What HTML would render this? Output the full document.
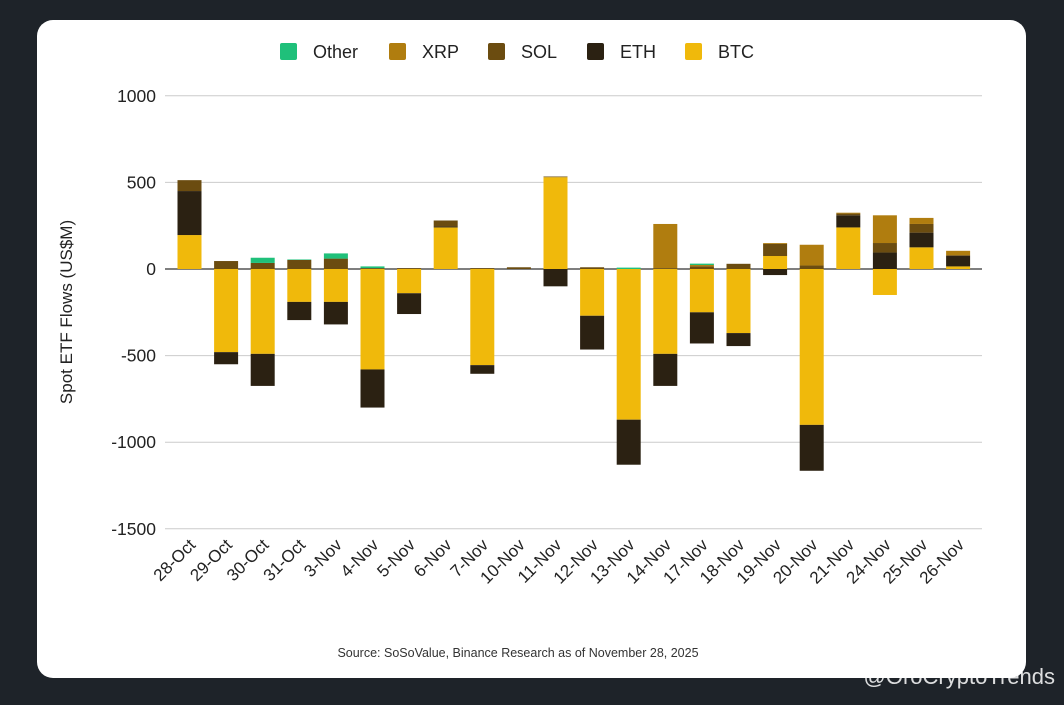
<!DOCTYPE html>
<html><head><meta charset="utf-8"><style>
body{margin:0;background:#1e2329;width:1064px;height:700px;overflow:hidden;font-family:"Liberation Sans",sans-serif}
</style></head><body>
<svg id="c" width="1064" height="700">
<rect x="37" y="20" width="989" height="658" rx="16" fill="#fff"/>
<text x="518" y="657" font-size="12.5" fill="#333" text-anchor="middle">Source: SoSoValue, Binance Research as of November 28, 2025</text>
<text x="1055" y="684" font-size="22" fill="#fff" fill-opacity="0.85" text-anchor="end">@OroCryptoTrends</text>
<text transform="translate(72,312) rotate(-90)" font-size="17" fill="#222" text-anchor="middle">Spot ETF Flows (US$M)</text>
</svg>
<script>
const categories=["28-Oct","29-Oct","30-Oct","31-Oct","3-Nov","4-Nov","5-Nov","6-Nov","7-Nov","10-Nov","11-Nov","12-Nov","13-Nov","14-Nov","17-Nov","18-Nov","19-Nov","20-Nov","21-Nov","24-Nov","25-Nov","26-Nov"];
const btc=[196,-480,-490,-190,-190,-580,-140,240,-555,0,530,-270,-870,-490,-250,-370,75,-900,240,-150,125,15];
const eth=[254,-70,-185,-105,-130,-220,-120,5,-50,0,-100,-195,-260,-185,-180,-75,-35,-265,70,95,85,60];
const sol=[63,46,35,52,60,5,5,35,5,10,4,10,0,5,15,30,70,20,10,55,50,5];
const xrp=[0,0,0,0,0,0,0,0,0,0,0,0,0,255,8,0,5,120,5,160,35,25];
const other=[0,0,30,3,30,10,0,0,0,0,0,0,8,0,8,0,0,0,0,0,0,0];
const yTicks=[1000,500,0,-500,-1000,-1500];
const series=[["btc",btc,"#F0B90B"],["eth",eth,"#2b2112"],["sol",sol,"#6b4c10"],["xrp",xrp,"#b07d0f"],["other",other,"#1fc07a"]];
const legend=[["Other","#1fc07a"],["XRP","#b07d0f"],["SOL","#6b4c10"],["ETH","#2b2112"],["BTC","#F0B90B"]];
const NS="http://www.w3.org/2000/svg",svg=document.getElementById("c");
const X0=165,X1=982,bw=36.6;
const y=v=>269-v*(173.2/1000);
const x=i=>189.5+bw*i;
function mk(t,a){const e=document.createElementNS(NS,t);for(const k in a)e.setAttribute(k,a[k]);svg.appendChild(e);return e;}
yTicks.forEach(t=>{
 const l=mk("line",{x1:X0,x2:X1,y1:y(t),y2:y(t),stroke:t===0?"#555":"#ccc","stroke-width":t===0?1.5:1});
 
 
 const tx=mk("text",{x:156,y:y(t)+6,"font-size":17.5,fill:"#222","text-anchor":"end"});tx.textContent=t;
 
 
});
categories.forEach((c,i)=>{
 let pos=0,neg=0;
 series.forEach(([n,arr,col])=>{
  const v=arr[i];if(!v)return;
  let a,b;if(v>0){a=pos;pos+=v;b=pos;}else{a=neg;neg+=v;b=neg;}
  const r=mk("rect",{x:x(i)-12,width:24,y:Math.min(y(a),y(b)),height:Math.abs(y(a)-y(b)),fill:col});
  
  
 });
 const t=mk("text",{transform:`translate(${x(i)+7},${546}) rotate(-45)`,"font-size":17,fill:"#222","text-anchor":"end"});t.textContent=c;
 
 
});
let lx=280;
const lxs=[280,389,488,587,685];
legend.forEach(([n,col],k)=>{
 lx=lxs[k];
 const r=mk("rect",{x:lx,y:43,width:17,height:17,fill:col,rx:2});
 
 
 const t=mk("text",{x:lx+33,y:58,"font-size":18,fill:"#222"});t.textContent=n;
 
 
});
</script>
</body></html>
